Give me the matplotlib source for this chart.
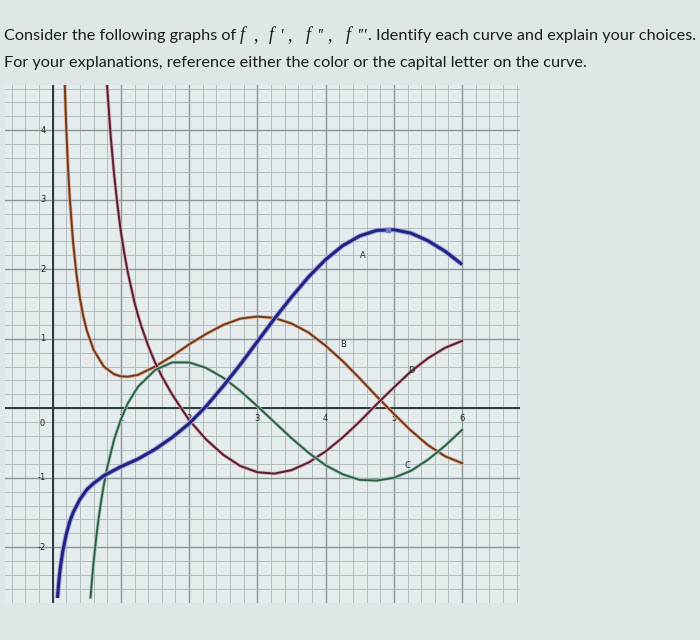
import matplotlib
matplotlib.use("Agg")
import matplotlib.pyplot as plt
import matplotlib.patheffects as pe
import numpy as np

# curva A (azul)
a_x = [0.07, 0.08, 0.1, 0.12, 0.15, 0.2, 0.25, 0.3, 0.4, 0.5, 0.6, 0.75, 1.0, 1.25, 1.5,
       1.75, 2.0, 2.25, 2.5, 2.75, 3.0, 3.25, 3.5, 3.75, 4.0, 4.25, 4.5, 4.75, 5.0, 5.25,
       5.5, 5.75, 6.0]
a_y = [-2.73, -2.61, -2.40, -2.24, -2.05, -1.81, -1.63, -1.50, -1.31, -1.17, -1.08, -0.97,
       -0.84, -0.73, -0.59, -0.42, -0.22, 0.03, 0.32, 0.63, 0.96, 1.29, 1.60, 1.89, 2.14,
       2.34, 2.48, 2.56, 2.57, 2.52, 2.41, 2.26, 2.07]
a_max = (4.91, 2.57)

# curva B (marrom/laranja)
b_x = [0.177, 0.2, 0.225, 0.25, 0.3, 0.35, 0.4, 0.45, 0.5, 0.6, 0.75, 0.9, 1.0, 1.1, 1.25,
       1.5, 1.75, 2.0, 2.25, 2.5, 2.75, 3.0, 3.25, 3.5, 3.75, 4.0, 4.25, 4.5, 4.75, 5.0,
       5.25, 5.5, 5.75, 6.0]
b_y = [4.66, 4.02, 3.47, 3.03, 2.38, 1.92, 1.58, 1.32, 1.12, 0.84, 0.60, 0.49, 0.46, 0.455,
       0.48, 0.60, 0.75, 0.92, 1.07, 1.20, 1.29, 1.32, 1.30, 1.22, 1.09, 0.90, 0.68, 0.43,
       0.17, -0.08, -0.32, -0.53, -0.69, -0.79]

# curva C (verde)
c_x = [0.555, 0.58, 0.6, 0.65, 0.7, 0.75, 0.8, 0.9, 1.0, 1.1, 1.25, 1.5, 1.75, 2.0, 2.25,
       2.5, 2.75, 3.0, 3.25, 3.5, 3.75, 4.0, 4.25, 4.5, 4.75, 5.0, 5.25, 5.5, 5.75, 6.0]
c_y = [-2.72, -2.42, -2.21, -1.76, -1.40, -1.10, -0.85, -0.45, -0.16, 0.07, 0.31, 0.55,
       0.66, 0.66, 0.58, 0.44, 0.25, 0.03, -0.20, -0.43, -0.64, -0.82, -0.95, -1.03, -1.04,
       -1.00, -0.90, -0.74, -0.54, -0.31]

# curva D (vinho)
d_x = [0.797, 0.85, 0.9, 0.95, 1.0, 1.05, 1.1, 1.2, 1.25, 1.3, 1.4, 1.5, 1.6, 1.75, 2.0,
       2.25, 2.5, 2.75, 3.0, 3.25, 3.5, 3.75, 4.0, 4.25, 4.5, 4.75, 5.0, 5.25, 5.5, 5.75, 6.0]
d_y = [4.65, 3.92, 3.37, 2.92, 2.54, 2.23, 1.96, 1.52, 1.34, 1.18, 0.90, 0.66, 0.46, 0.20,
       -0.17, -0.45, -0.67, -0.83, -0.92, -0.94, -0.89, -0.78, -0.62, -0.42, -0.19, 0.06,
       0.30, 0.53, 0.72, 0.87, 0.97]

x_ticks = [1, 2, 3, 4, 5, 6]
y_ticks = [-2, -1, 1, 2, 3, 4]
letras = ['A', 'B', 'C', 'D']
letras_pos = [(4.55, 2.2), (4.25, 0.92), (5.2, -0.82), (5.25, 0.55)]

linha1_ini = "Consider the following graphs of"
linha1_fim = ". Identify each curve and explain your choices."
linha2 = "For your explanations, reference either the color or the capital letter on the curve."
linhas = ["", "'", "''", "'''"]

W, H = 700, 640
fig = plt.figure(figsize=(7, 6.4), dpi=100, facecolor='#dee6e8')

cor_txt = '#1c1c1c'
base1 = 1 - 40 / H
fig.text(4 / W, base1, linha1_ini, fontsize=11.7, family='Lato', color=cor_txt, va='baseline')
# f, f', f'', f''' em serifada italica, com as linhas um pouco afastadas
for p, px in zip(linhas, [240, 269, 306, 346]):
    fig.text(px / W, base1, 'f', fontsize=13, family='Liberation Serif',
             style='italic', color=cor_txt, va='baseline')
    if p:
        fig.text((px + 10) / W, base1, p, fontsize=12, family='Liberation Serif',
                 style='italic', color=cor_txt, va='baseline')
for px in [253, 287, 327]:
    fig.text(px / W, base1, ',', fontsize=13, family='Liberation Serif', color=cor_txt, va='baseline')
fig.text(368 / W, base1, linha1_fim, fontsize=11.7, family='Lato', color=cor_txt, va='baseline')
fig.text(4 / W, 1 - 67 / H, linha2, fontsize=11.7, family='Lato', color=cor_txt, va='baseline')

ax = fig.add_axes([0.007, 0.058, 0.736, 0.809])
ax.set_facecolor('#e5ecee')
ax.set_xlim(-0.7, 6.85)
ax.set_ylim(-2.8, 4.65)
for s in ax.spines.values():
    s.set_visible(False)
ax.set_xticks([])
ax.set_yticks([])

# grade
for gx in np.arange(-0.6, 6.85, 0.2):
    inteiro = abs(gx - round(gx)) < 1e-6
    ax.axvline(gx, color='#8a9598' if inteiro else '#b2bcbf', lw=1.0 if inteiro else 0.7, zorder=1)
for gy in np.arange(-2.8, 4.65, 0.2):
    inteiro = abs(gy - round(gy)) < 1e-6
    ax.axhline(gy, color='#8a9598' if inteiro else '#b2bcbf', lw=1.0 if inteiro else 0.7, zorder=1)
ax.axhline(0, color='#2c3a3f', lw=1.4, zorder=2)
ax.axvline(0, color='#2c3a3f', lw=1.4, zorder=2)

for t in x_ticks:
    ax.text(t, -0.14, str(t), fontsize=6, ha='center', va='center', color='#222222', zorder=3)
ax.text(-0.15, -0.22, '0', fontsize=6, ha='center', va='center', color='#222222', zorder=3)
for t in y_ticks:
    ax.text(-0.1, t, str(t), fontsize=6, ha='right', va='center', color='#222222', zorder=3)

ax.plot(b_x, b_y, color='#6a3a26', lw=1.4, zorder=4,
        path_effects=[pe.Stroke(linewidth=2.5, foreground='#e3ad86'), pe.Normal()])
ax.plot(d_x, d_y, color='#5a1d34', lw=1.4, zorder=4,
        path_effects=[pe.Stroke(linewidth=2.5, foreground='#d4a6b2'), pe.Normal()])
ax.plot(c_x, c_y, color='#2b5e45', lw=1.3, zorder=4,
        path_effects=[pe.Stroke(linewidth=2.4, foreground='#a3c4b3'), pe.Normal()])
ax.plot(a_x, a_y, color='#222380', lw=2.2, zorder=5, solid_capstyle='butt',
        path_effects=[pe.Stroke(linewidth=3.6, foreground='#a0a4dc'), pe.Normal()])
ax.plot([a_max[0]], [a_max[1]], 's', ms=3, color='#6f78b8', zorder=6)

for letra, (lx, ly) in zip(letras, letras_pos):
    ax.text(lx, ly, letra, fontsize=6, ha='center', va='center', color='#2a2a2a', zorder=6)

fig.savefig('out.png', dpi=100, facecolor=fig.get_facecolor())
